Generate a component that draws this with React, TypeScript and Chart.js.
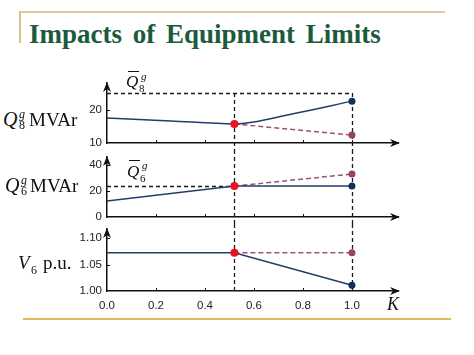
import React, { useEffect, useRef } from "react";
import { Chart, registerables } from "chart.js";

Chart.register(...registerables);

// ---------------- data ----------------
const K_TICKS = [0, 0.2, 0.4, 0.6, 0.8, 1.0];
const K_LIMIT = 0.52;
const K_END = 1.0;
const K_AXIS_MAX = 1.188;

const Q8_TICKS = [10, 20];
const Q8_K = [0, 0.26, 0.52, 0.76, 1.0];
const Q8_WITH_LIMITS = [17.6, 16.7, 15.8, 18.9, 22.7];
const Q8_NO_LIMITS_K = [0.52, 1.0];
const Q8_NO_LIMITS = [15.8, 12.4];
const Q8_MAX = 25.2;

const Q6_TICKS = [0, 20, 40];
const Q6_K = [0, 0.52, 1.0];
const Q6_WITH_LIMITS = [12.3, 23.8, 23.8];
const Q6_NO_LIMITS_K = [0.52, 1.0];
const Q6_NO_LIMITS = [23.8, 33.1];
const Q6_MAX = 23.8;

const V6_TICKS = [1.0, 1.05, 1.1];
const V6_K = [0, 0.52, 1.0];
const V6_WITH_LIMITS = [1.072, 1.072, 1.011];
const V6_NO_LIMITS_K = [0.52, 1.0];
const V6_NO_LIMITS = [1.072, 1.072];

// ---------------- styles ----------------
const SERIF = '"Liberation Serif", "Times New Roman", serif';
const SANS = '"Liberation Sans", Arial, sans-serif';
const NAVY = "#233d68";
const NAVY_DOT = "#11305a";
const MAUVE = "#a04f79";
const MAUVE_DOT = "#993f6b";
const RED = "#e8131b";
const INK = "#111111";

const guidePlugin = {
  id: "guides",
  beforeDatasetsDraw(chart: any, _a: any, o: any) {
    const { ctx, chartArea: ca } = chart;
    const xs = chart.scales.x;
    const ys = chart.scales.y;
    ctx.save();
    ctx.strokeStyle = "#1a1a1a";
    ctx.lineWidth = 1.3;
    ctx.setLineDash([4, 3]);
    if (o.limit != null) {
      const yl = Math.round(ys.getPixelForValue(o.limit)) + 0.5;
      ctx.beginPath();
      ctx.moveTo(ca.left, yl);
      ctx.lineTo(xs.getPixelForValue(o.limitEnd), yl);
      ctx.stroke();
    }
    const top = o.vFromLimit ? ys.getPixelForValue(o.limit) : 0;
    const bottom = o.vToAxis ? ca.bottom : chart.height;
    for (const k of o.vLines) {
      const px = Math.round(xs.getPixelForValue(k)) + 0.5;
      ctx.beginPath();
      ctx.moveTo(px, top);
      ctx.lineTo(px, bottom);
      ctx.stroke();
    }
    ctx.restore();
  },
  afterDraw(chart: any) {
    const { ctx, chartArea: ca } = chart;
    const xs = chart.scales.x;
    const ys = chart.scales.y;
    ctx.save();
    ctx.strokeStyle = INK;
    ctx.fillStyle = INK;
    ctx.lineWidth = 1;
    ctx.beginPath();
    xs.ticks.forEach((t: any) => {
      if (t.value === xs.min) return;
      const px = Math.round(xs.getPixelForValue(t.value)) + 0.5;
      ctx.moveTo(px, ca.bottom);
      ctx.lineTo(px, ca.bottom - 3);
    });
    ys.ticks.forEach((t: any) => {
      if (t.value === ys.min) return;
      const py = Math.round(ys.getPixelForValue(t.value)) + 0.5;
      ctx.moveTo(ca.left, py);
      ctx.lineTo(ca.left + 3, py);
    });
    ctx.stroke();
    // arrow heads
    const r = ca.right + 2;
    const b = ca.bottom;
    ctx.beginPath();
    ctx.moveTo(r, b);
    ctx.lineTo(r - 10, b - 4);
    ctx.lineTo(r - 7, b);
    ctx.lineTo(r - 10, b + 4);
    ctx.closePath();
    ctx.fill();
    const l = ca.left;
    const t = ca.top - 1;
    ctx.beginPath();
    ctx.moveTo(l, t);
    ctx.lineTo(l - 4, t + 10);
    ctx.lineTo(l, t + 7);
    ctx.lineTo(l + 4, t + 10);
    ctx.closePath();
    ctx.fill();
    ctx.restore();
  },
};

type PanelProps = {
  left: number;
  top: number;
  width: number;
  height: number;
  padTop: number;
  padRight: number;
  xAxisH: number;
  yAxisW: number;
  yMin: number;
  yMax: number;
  yTicks: number[];
  yDecimals: number;
  showXLabels: boolean;
  solidK: number[];
  solidV: number[];
  dashK: number[];
  dashV: number[];
  limit: number;
  limitEnd: number;
  vFromLimit: boolean;
  vToAxis: boolean;
  monotone: boolean;
};

function Panel(p: PanelProps) {
  const ref = useRef<HTMLCanvasElement>(null);
  useEffect(() => {
    if (!ref.current) return;
    const tickFont = { family: SANS, size: 11.5 };
    const redIdx = p.solidK.indexOf(K_LIMIT);
    const chart = new Chart(ref.current, {
      type: "line",
      data: {
        datasets: [
          {
            data: [{ x: K_LIMIT, y: p.solidV[redIdx] }],
            showLine: false,
            pointRadius: 4,
            pointBackgroundColor: RED,
            pointBorderWidth: 0,
            borderColor: RED,
          },
          {
            data: p.solidK.map((k, i) => ({ x: k, y: p.solidV[i] })),
            borderColor: NAVY,
            borderWidth: 1.5,
            pointRadius: p.solidK.map((k) => (k === K_END ? 3.5 : 0)),
            pointBackgroundColor: NAVY_DOT,
            pointBorderWidth: 0,
            cubicInterpolationMode: p.monotone ? "monotone" : "default",
            tension: 0,
          },
          {
            data: p.dashK.map((k, i) => ({ x: k, y: p.dashV[i] })),
            borderColor: MAUVE,
            borderWidth: 1.5,
            borderDash: [5, 3],
            pointRadius: p.dashK.map((k) => (k === K_END ? 3.5 : 0)),
            pointBackgroundColor: MAUVE_DOT,
            pointBorderWidth: 0,
          },
        ],
      } as any,
      options: {
        responsive: false,
        animation: false,
        layout: { padding: { top: p.padTop, right: p.padRight, left: 0, bottom: 0 } },
        plugins: {
          legend: { display: false },
          tooltip: { enabled: false },
          guides: {
            limit: p.limit,
            limitEnd: p.limitEnd,
            vFromLimit: p.vFromLimit,
            vToAxis: p.vToAxis,
            vLines: [K_LIMIT, K_END],
          },
        } as any,
        scales: {
          x: {
            type: "linear",
            min: 0,
            max: K_AXIS_MAX,
            grid: { display: false, drawTicks: false },
            border: { display: true, color: INK, width: 1.5 },
            ticks: {
              display: p.showXLabels,
              padding: 8,
              font: tickFont,
              color: "#222",
              callback: (v: any) => Number(v).toFixed(1),
            },
            afterBuildTicks: (s: any) => {
              s.ticks = K_TICKS.map((v) => ({ value: v }));
            },
            afterFit: (s: any) => {
              s.height = p.xAxisH;
              s.paddingLeft = 0;
              s.paddingRight = 0;
            },
          },
          y: {
            type: "linear",
            min: p.yMin,
            max: p.yMax,
            grid: { display: false, drawTicks: false },
            border: { display: true, color: INK, width: 1.5 },
            ticks: {
              padding: 5,
              font: tickFont,
              color: "#222",
              callback: (v: any) => Number(v).toFixed(p.yDecimals),
            },
            afterBuildTicks: (s: any) => {
              s.ticks = p.yTicks.map((v) => ({ value: v }));
            },
            afterFit: (s: any) => {
              s.width = p.yAxisW;
              s.paddingTop = 0;
              s.paddingBottom = 0;
            },
          },
        },
      } as any,
      plugins: [guidePlugin as any],
    });
    return () => chart.destroy();
  }, []);
  return (
    <canvas
      ref={ref}
      width={p.width}
      height={p.height}
      style={{ position: "absolute", left: p.left, top: p.top, width: p.width, height: p.height }}
    />
  );
}

function T(props: {
  x: number;
  base: number;
  size: number;
  italic?: boolean;
  bold?: boolean;
  color?: string;
  family?: string;
  wordSpacing?: number;
  children: React.ReactNode;
}) {
  const { x, base, size } = props;
  return (
    <div
      style={{
        position: "absolute",
        left: x,
        top: base - 0.84 * size,
        fontSize: size,
        lineHeight: `${size}px`,
        fontFamily: props.family ?? SERIF,
        fontStyle: props.italic ? "italic" : "normal",
        fontWeight: props.bold ? 700 : 400,
        color: props.color ?? INK,
        wordSpacing: props.wordSpacing ?? 0,
        whiteSpace: "nowrap",
      }}
    >
      {props.children}
    </div>
  );
}

function Bar(props: { x: number; y: number; w: number; h: number; c: string }) {
  return (
    <div
      style={{
        position: "absolute",
        left: props.x,
        top: props.y,
        width: props.w,
        height: props.h,
        background: props.c,
      }}
    />
  );
}

export default function App() {
  const common = { left: 60, width: 360, padRight: 22, yAxisW: 47 };
  return (
    <div
      style={{
        position: "absolute",
        left: 0,
        top: 0,
        width: 474,
        height: 355,
        background: "#ffffff",
        overflow: "hidden",
      }}
    >
      {/* slide decorations */}
      <Bar x={20} y={11} w={425} h={2} c="#ddcd9c" />
      <Bar x={19} y={11} w={2} h={32} c="#d6c28a" />
      <Bar x={23} y={318} w={428} h={2} c="#dfbb5c" />
      <T x={29} base={44} size={27} bold color="#1b5b3b" wordSpacing={4}>
        Impacts of Equipment Limits
      </T>

      <Panel
        {...common}
        top={60}
        height={90}
        padTop={23}
        xAxisH={7}
        yMin={10}
        yMax={28.2}
        yTicks={Q8_TICKS}
        yDecimals={0}
        showXLabels={false}
        solidK={Q8_K}
        solidV={Q8_WITH_LIMITS}
        dashK={Q8_NO_LIMITS_K}
        dashV={Q8_NO_LIMITS}
        limit={Q8_MAX}
        limitEnd={K_END}
        vFromLimit={true}
        vToAxis={false}
        monotone={true}
      />
      <Panel
        {...common}
        top={150}
        height={74}
        padTop={7}
        xAxisH={7}
        yMin={0}
        yMax={46.2}
        yTicks={Q6_TICKS}
        yDecimals={0}
        showXLabels={false}
        solidK={Q6_K}
        solidV={Q6_WITH_LIMITS}
        dashK={Q6_NO_LIMITS_K}
        dashV={Q6_NO_LIMITS}
        limit={Q6_MAX}
        limitEnd={K_LIMIT}
        vFromLimit={false}
        vToAxis={false}
        monotone={false}
      />
      <Panel
        {...common}
        top={224}
        height={96}
        padTop={5}
        xAxisH={29}
        yMin={1.0}
        yMax={1.117}
        yTicks={V6_TICKS}
        yDecimals={2}
        showXLabels={true}
        solidK={V6_K}
        solidV={V6_WITH_LIMITS}
        dashK={V6_NO_LIMITS_K}
        dashV={V6_NO_LIMITS}
        limit={V6_WITH_LIMITS[0]}
        limitEnd={0}
        vFromLimit={false}
        vToAxis={true}
        monotone={false}
      />

      {/* axis labels */}
      <T x={3} base={126} size={20} italic>Q</T>
      <T x={19} base={118} size={12} italic>g</T>
      <T x={19} base={129} size={12}>8</T>
      <T x={29} base={126} size={19}>MVAr</T>

      <T x={5} base={192} size={20} italic>Q</T>
      <T x={21} base={184} size={12} italic>g</T>
      <T x={21} base={195} size={12}>6</T>
      <T x={30} base={192} size={19}>MVAr</T>

      <T x={18} base={269} size={19} italic>V</T>
      <T x={31} base={274} size={12}>6</T>
      <T x={43} base={269} size={19}>p.u.</T>

      <Bar x={128} y={71} w={11} h={1.3} c={INK} />
      <T x={126} base={87} size={17} italic>Q</T>
      <T x={139} base={92} size={11}>8</T>
      <T x={141} base={80} size={11} italic>g</T>

      <Bar x={129} y={160} w={11} h={1.3} c={INK} />
      <T x={127} base={177} size={17} italic>Q</T>
      <T x={140} base={182} size={11}>6</T>
      <T x={142} base={169} size={11} italic>g</T>

      <T x={387} base={310} size={18} italic>K</T>
    </div>
  );
}
